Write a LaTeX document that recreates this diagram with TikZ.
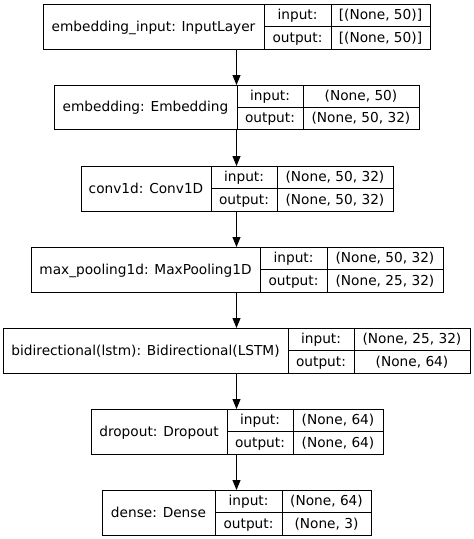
\documentclass[tikz,border=0pt]{standalone}
\usepackage{fontspec}
\setmainfont{DejaVu Sans}
\usetikzlibrary{arrows.meta}
\tikzset{
 cell/.style={draw, line width=0.9pt, inner sep=0pt, outer sep=0pt, anchor=center,
   text height=11pt, text depth=2pt, font=\fontsize{13.7}{16}\selectfont},
 rec/.style={draw, line width=0.9pt, inner sep=0pt, outer sep=0pt},
 flow/.style={line width=0.9pt, -{Triangle[length=10pt,width=8pt]}}
}
\newcommand\klayer[9]{\def\kname{#1}\def\kt{#2}\def\kb{#3}\def\kxa{#4}\def\kxb{#5}\def\kxc{#6}\def\kxd{#7}\def\klabel{#8}\def\kin{#9}\klayerfinish}
\newcommand\klayerfinish[1]{%
 \pgfmathsetmacro\km{(\kt+\kb)/2}%
 \pgfmathsetmacro\kh{\kb-\kt}%
 \pgfmathsetmacro\khh{\kh/2}%
 \node[rec, minimum width={(\kxd-\kxa)*1pt}, minimum height=\kh pt] (\kname) at ({(\kxa+\kxd)/2},\km) {};
 \node[cell, minimum width={(\kxb-\kxa)*1pt}, minimum height=\kh pt] (\kname-l) at ({(\kxa+\kxb)/2},\km) {\klabel};
 \node[cell, minimum width={(\kxc-\kxb)*1pt}, minimum height=\khh pt] (\kname-ik) at ({(\kxb+\kxc)/2},{(\kt+\km)/2}) {input:};
 \node[cell, minimum width={(\kxc-\kxb)*1pt}, minimum height=\khh pt] (\kname-ok) at ({(\kxb+\kxc)/2},{(\km+\kb)/2}) {output:};
 \node[cell, minimum width={(\kxd-\kxc)*1pt}, minimum height=\khh pt] (\kname-iv) at ({(\kxc+\kxd)/2},{(\kt+\km)/2}) {\kin};
 \node[cell, minimum width={(\kxd-\kxc)*1pt}, minimum height=\khh pt] (\kname-ov) at ({(\kxc+\kxd)/2},{(\km+\kb)/2}) {#1};
}
\begin{document}
\begin{tikzpicture}[x=1pt,y=-1pt]
\useasboundingbox[fill=white] (0,0) rectangle (474,539);
\klayer{inp}{4}{49}{43}{264}{331}{430}{embedding\_input: InputLayer}{[(None, 50)]}{[(None, 50)]}
\klayer{emb}{85}{129}{54}{237}{303}{419}{embedding: Embedding}{(None, 50)}{(None, 50, 32)}
\klayer{conv}{166}{211}{81}{211}{277}{393}{conv1d: Conv1D}{(None, 50, 32)}{(None, 50, 32)}
\klayer{pool}{247}{292}{31}{260}{327}{443}{max\_pooling1d: MaxPooling1D}{(None, 50, 32)}{(None, 25, 32)}
\klayer{bi}{328}{373}{3}{288}{354}{470}{bidirectional(lstm): Bidirectional(LSTM)}{(None, 25, 32)}{(None, 64)}
\klayer{drop}{409}{454}{91}{227}{293}{383}{dropout: Dropout}{(None, 64)}{(None, 64)}
\klayer{dense}{490}{535}{102}{215}{282}{371}{dense: Dense}{(None, 64)}{(None, 3)}
\draw[flow] (inp.south) -- (inp.south |- emb.north);
\draw[flow] (emb.south -| inp.south) -- (inp.south |- conv.north);
\draw[flow] (conv.south -| inp.south) -- (inp.south |- pool.north);
\draw[flow] (pool.south -| inp.south) -- (inp.south |- bi.north);
\draw[flow] (bi.south -| inp.south) -- (inp.south |- drop.north);
\draw[flow] (drop.south -| inp.south) -- (inp.south |- dense.north);
\end{tikzpicture}
\end{document}
